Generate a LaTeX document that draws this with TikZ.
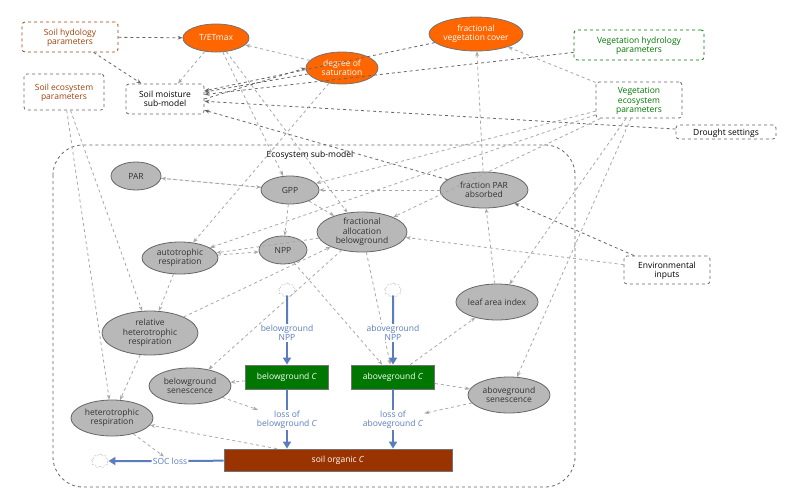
\documentclass[tikz,border=0pt]{standalone}
\usepackage{fontspec}
\setmainfont{Open Sans}
\usetikzlibrary{shapes.geometric,shapes.symbols,arrows.meta}
\definecolor{hot}{HTML}{FF6600}
\definecolor{rust}{HTML}{A0400B}
\definecolor{leaf}{HTML}{007700}
\definecolor{flow}{HTML}{5B7DBE}
\definecolor{soc}{HTML}{993300}
\tikzset{
    every node/.style={font=\fontsize{8.5}{9.5}\selectfont,align=center},
    state/.style={ellipse,draw=black!60,thick,fill=black!28,text=black!80,inner sep=0pt,minimum width=#1},
    hotstate/.style={ellipse,draw=black!55,thick,fill=hot,text=white,inner sep=0pt,minimum width=#1},
    param/.style={draw=#1,dashed,thick,rounded corners=3pt,inner sep=2pt,text depth=0pt},
    pool/.style={draw=black!55,thick,fill=#1,text=white,minimum height=24pt},
    puff/.style={cloud,cloud puffs=9,draw=black!55,densely dotted,fill=white,minimum width=17pt,minimum height=14pt,inner sep=0pt},
    link/.style={draw=black!35,dashed,thick,-{Stealth[length=5pt]}},
    strong/.style={draw=black!60,dashed,thick,-{Stealth[length=5pt]}},
    carbon/.style={draw=flow,line width=2pt,-{Triangle[length=7pt,width=8pt]}},
    carbonline/.style={draw=flow,line width=2pt},
    flowlabel/.style={fill=white,text=flow,inner sep=1pt}
}

\begin{document}
\begin{tikzpicture}[x=1pt,y=-1pt]
  \useasboundingbox (0,0) rectangle (800,501);
  % Container
  \draw[black!60,dashed,thick,rounded corners=30pt] (53,145) rectangle (575,487);
  \node[fill=white,inner sep=1pt] (ecolabel) at (310,155) {Ecosystem sub-model};

  % Parameter boxes
  \node[param=rust,text=rust,minimum width=96pt,minimum height=30pt] (soilhyd) at (70,37) {Soil hydology\\parameters};
  \node[param=black!60,text=rust,minimum width=80pt,minimum height=36pt] (soileco) at (64,92) {Soil ecosystem\\parameters};
  \node[param=black!60,minimum width=78pt,minimum height=30pt] (soilmoist) at (165,99) {Soil moisture\\sub-model};
  \node[param=leaf,text=leaf,minimum width=130pt,minimum height=30pt] (veghyd) at (639,45) {Vegetation hydrology\\parameters};
  \node[param=black!60,text=leaf,minimum width=86pt,minimum height=36pt] (vegeco) at (639,100) {Vegetation\\ecosystem\\parameters};
  \node[param=black!60,minimum width=100pt,minimum height=14pt] (drought) at (726,132) {Drought settings};
  \node[param=black!60,minimum width=86pt,minimum height=28pt] (envinp) at (667,270) {Environmental\\inputs};

  % Hydrology states
  \node[hotstate=66pt,minimum height=28pt] (tet) at (216,38) {T/ETmax};
  \node[hotstate=72pt,minimum height=32pt] (degsat) at (342,68) {degree of\\saturation};
  \node[hotstate=94pt,minimum height=34pt] (fvc) at (476,34) {fractional\\vegetation cover};

  % Ecosystem states
  \node[state=50pt,minimum height=28pt] (par) at (136,176) {PAR};
  \node[state=58pt,minimum height=28pt] (gpp) at (290,190) {GPP};
  \node[state=90pt,minimum height=40pt] (fracalloc) at (362,232) {fractional\\allocation\\belowground};
  \node[state=88pt,minimum height=36pt] (fpar) at (484,190) {fraction PAR\\absorbed};
  \node[state=76pt,minimum height=32pt] (autoresp) at (180,258) {autotrophic\\respiration};
  \node[state=48pt,minimum height=28pt] (npp) at (283,250) {NPP};
  \node[state=82pt,minimum height=36pt] (lai) at (497,302) {leaf area index};
  \node[state=96pt,minimum height=44pt] (relhet) at (150,333) {relative\\heterotrophic\\respiration};
  \node[state=82pt,minimum height=36pt] (belowsen) at (190,386) {belowground\\senescence};
  \node[state=82pt,minimum height=36pt] (abovesen) at (509,395) {aboveground\\senescence};
  \node[state=82pt,minimum height=36pt] (hetresp) at (112,418) {heterotrophic\\respiration};

  % Pools
  \node[pool=leaf,minimum width=83pt] (belowc) at (287,377) {belowground \textit{C}};
  \node[pool=leaf,minimum width=83pt] (abovec) at (393,377) {aboveground \textit{C}};
  \node[pool=soc,minimum width=228pt,minimum height=22pt] (socpool) at (338,460) {soil organic \textit{C}};
  \node[puff] (srcbelow) at (287,290) {};
  \node[puff] (srcabove) at (393,290) {};
  \node[puff] (sink) at (100,461) {};

  % Influences
  \draw[strong] (soilhyd) -- (tet);
  \draw[strong] (soilhyd) -- (soilmoist);
  \draw[link] (tet) -- (soilmoist);
  \draw[link] (degsat) -- (tet);
  \draw[strong] (degsat) -- (soilmoist);
  \draw[strong] (soilmoist.east) -- (degsat.west);
  \draw[strong] (fvc) -- (soilmoist);
  \draw[strong] (veghyd) -- (soilmoist);
  \draw[strong] (drought) -- (soilmoist);
  \draw[strong] (fpar) -- (soilmoist);
  \draw[strong] (envinp) -- (fpar);
  \draw[link] (vegeco) -- (fvc);
  \draw[link] (tet) -- (gpp);
  \draw[link] (tet) -- (fracalloc);
  \draw[link] (degsat) -- (autoresp);
  \draw[link] (gpp) -- (par);
  \draw[link] (par) -- (gpp);
  \draw[link] (gpp) -- (npp);
  \draw[link] (gpp) -- (fracalloc);
  \draw[link] (fpar) -- (gpp);
  \draw[link] (fpar) -- (fvc);
  \draw[link] (lai) -- (fpar);
  \draw[link] (vegeco) -- (gpp);
  \draw[link] (vegeco) -- (autoresp);
  \draw[link] (vegeco) -- (fracalloc);
  \draw[link] (vegeco) -- (lai);
  \draw[link] (vegeco) -- (abovesen);
  \draw[link] (envinp) -- (fracalloc);
  \draw[link] (autoresp) -- (npp);
  \draw[link] (fracalloc) -- (autoresp);
  \draw[link] (relhet) -- (fracalloc);
  \draw[link] (soileco) -- (relhet);
  \draw[link] (soileco) -- (hetresp);
  \draw[link] (autoresp) -- (relhet);
  \draw[link] (relhet) -- (hetresp);
  \draw[link] (fracalloc) -- (belowsen);
  \draw[link] (npp) -- (abovec);
  \draw[link] (fracalloc) -- (abovec);
  \draw[link] (belowc) -- (belowsen);
  \draw[link] (abovec) -- (abovesen);
  \draw[link] (abovec) -- (lai);
  \draw[link] (socpool) -- (hetresp);

  % Flow labels
  \node[flowlabel] (nppbelow) at (287,333) {belowground\\NPP};
  \node[flowlabel] (nppabove) at (393,333) {aboveground\\NPP};
  \node[flowlabel] (lossbelow) at (287,420) {loss of\\belowground \textit{C}};
  \node[flowlabel] (lossabove) at (393,420) {loss of\\aboveground \textit{C}};
  \node[flowlabel] (socloss) at (170,461) {SOC loss};
  \draw[link] (belowsen) -- (lossbelow);
  \draw[link] (abovesen) -- (lossabove);
  \draw[link] (hetresp) -- (socloss);

  % Carbon flows
  \draw[carbonline] (srcbelow) -- (nppbelow);
  \draw[carbon] (nppbelow) -- (belowc);
  \draw[carbonline] (srcabove) -- (nppabove);
  \draw[carbon] (nppabove) -- (abovec);
  \draw[carbonline] (belowc) -- (lossbelow);
  \draw[carbon] (lossbelow) -- (socpool.north -| lossbelow);
  \draw[carbonline] (abovec) -- (lossabove);
  \draw[carbon] (lossabove) -- (socpool.north -| lossabove);
  \draw[carbonline] (socpool) -- (socloss);
  \draw[carbon] (socloss) -- (sink);
\end{tikzpicture}
\end{document}
